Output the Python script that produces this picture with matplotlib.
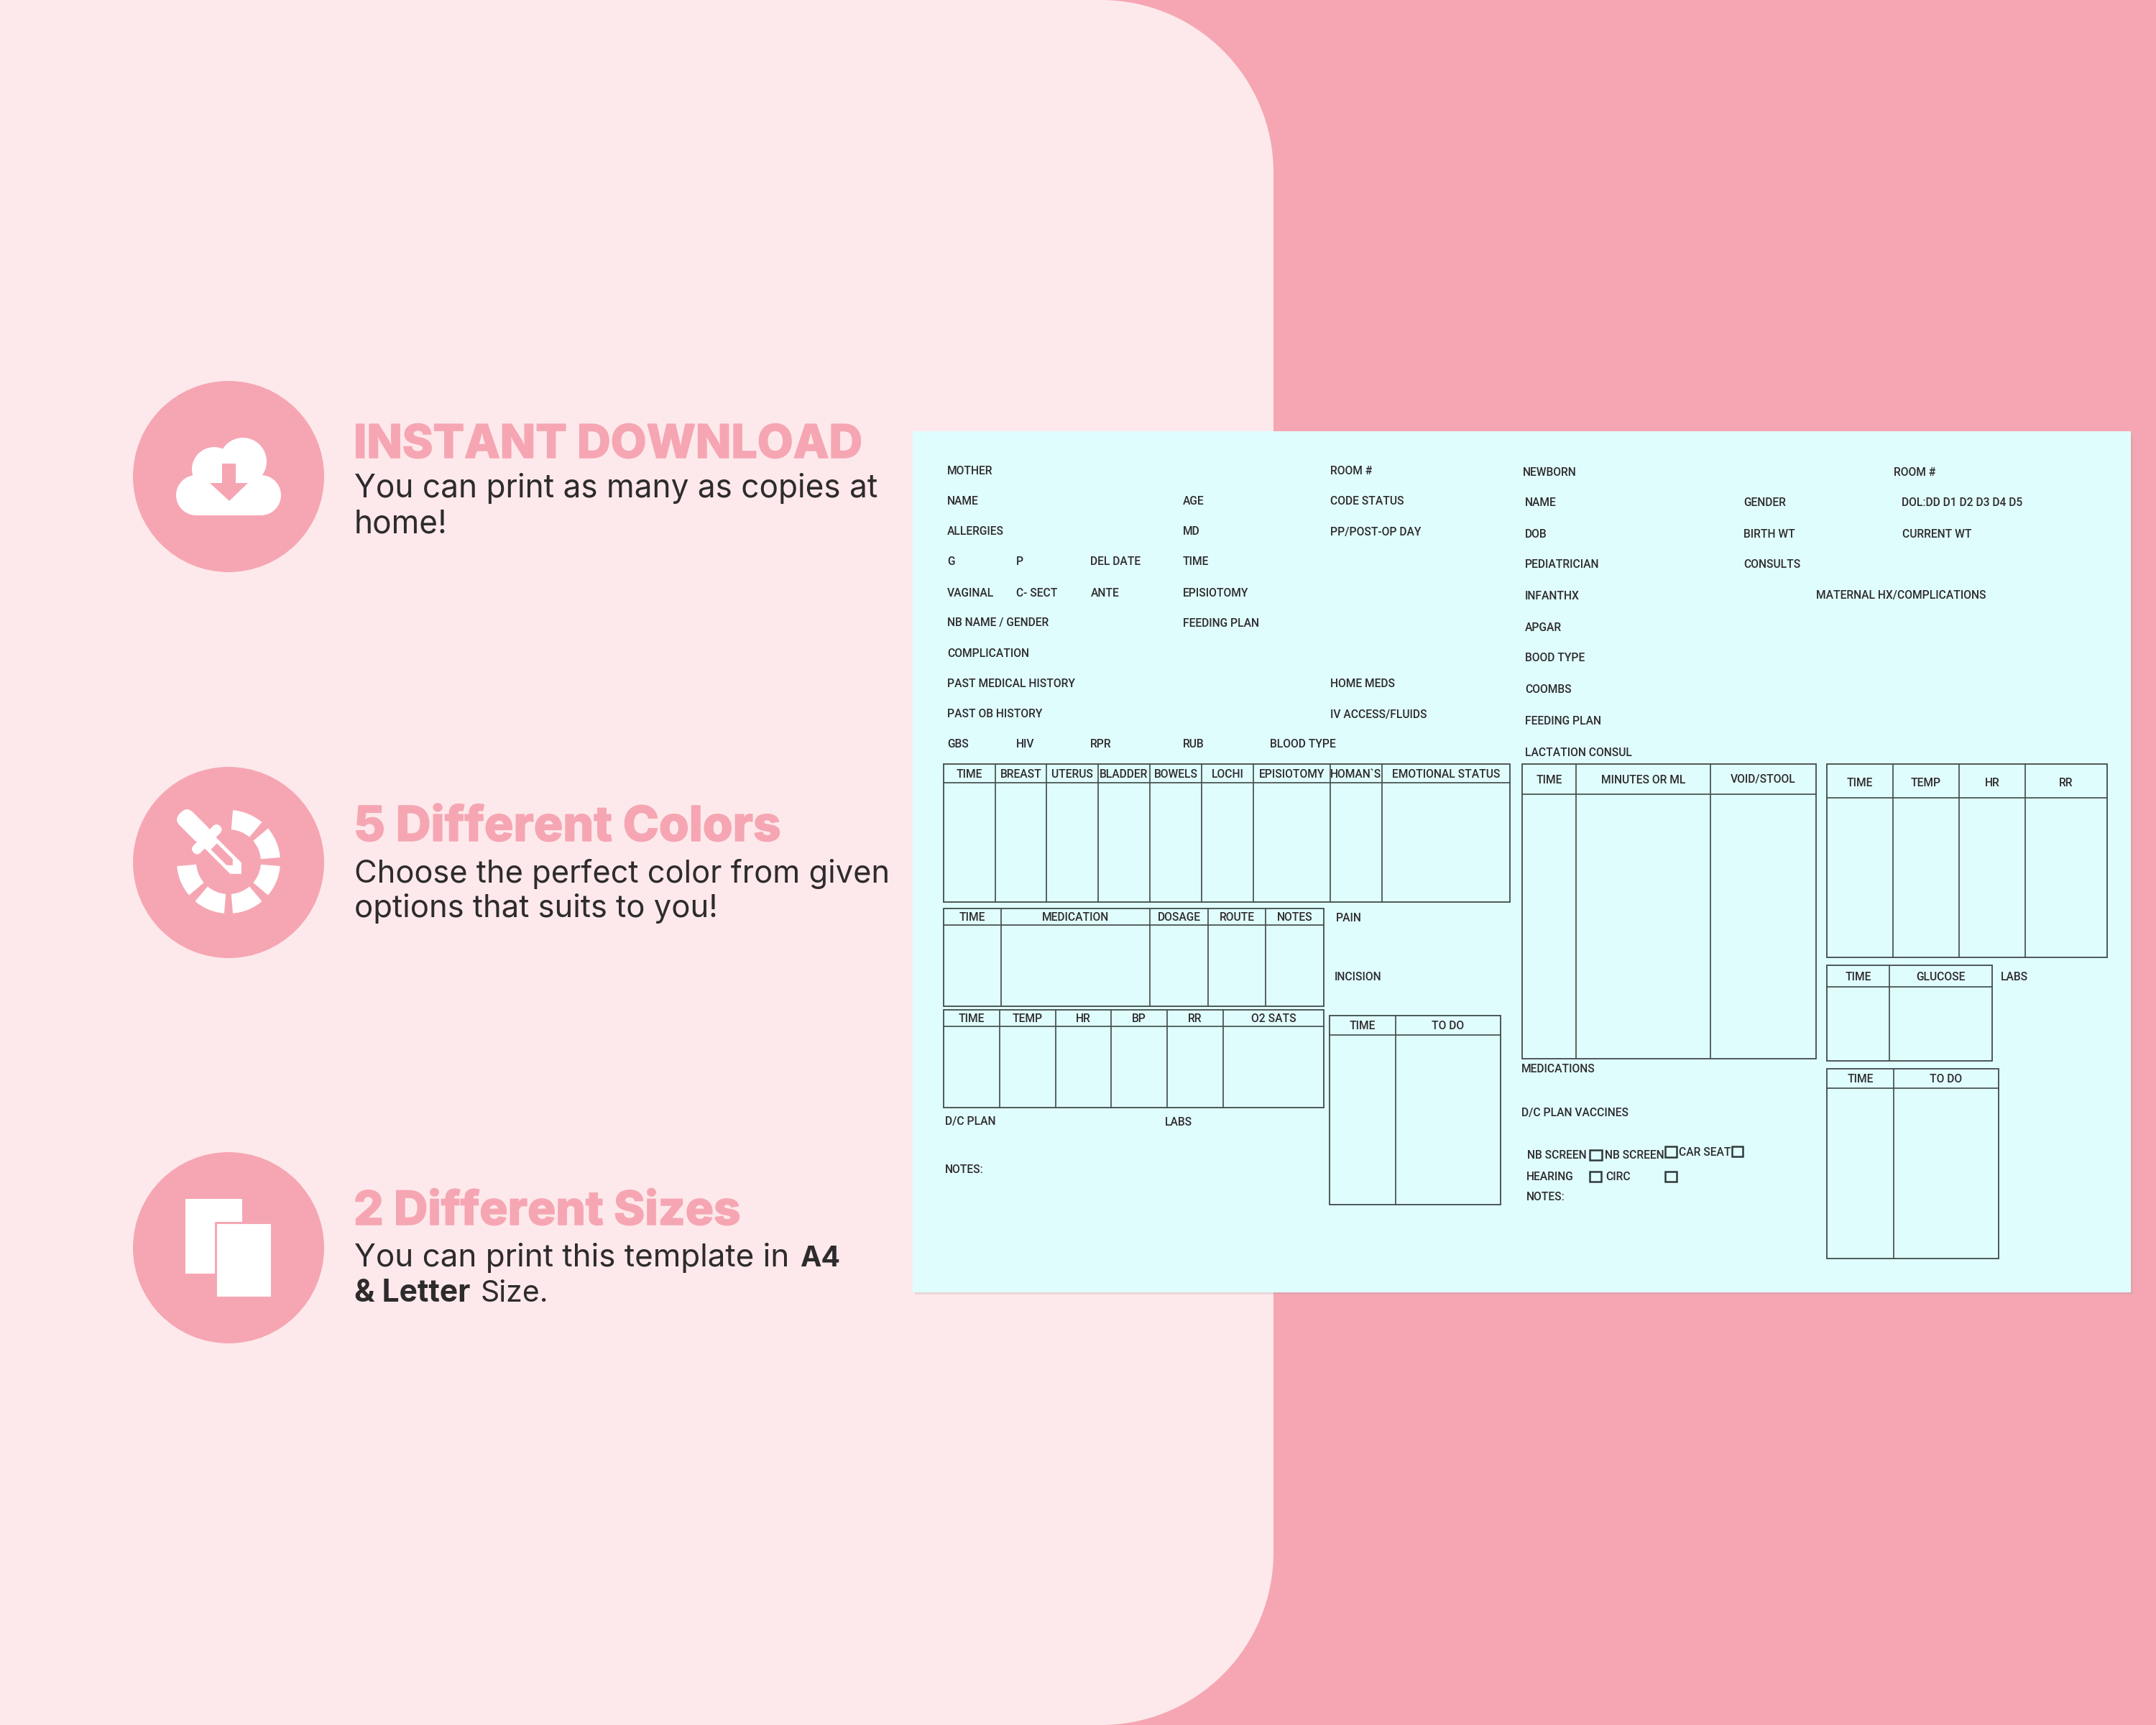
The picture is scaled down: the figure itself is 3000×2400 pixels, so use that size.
import matplotlib
matplotlib.use('Agg')
import matplotlib.pyplot as plt
import matplotlib.patheffects as pe
from matplotlib.patches import Circle, Rectangle, Polygon, Wedge, FancyBboxPatch
from matplotlib.transforms import Affine2D

plt.rcParams['font.family'] = ['Inter', 'DejaVu Sans']

PINK = '#F6A6B3'
PALE = '#FDE9EB'
SHEET = '#E0FDFE'
INK = '#2E2B2D'
LINE = '#46524F'
FORM_FONT = ['Roboto', 'DejaVu Sans']
LABEL = 3.75

# left page text
headings = ['INSTANT DOWNLOAD', '5 Different Colors', '2 Different Sizes']
line_one = ['You can print as many as copies at', 'home!']
line_two = ['Choose the perfect color from given', 'options that suits to you!']
line_three = ['You can print this template in', 'A4', '& Letter', 'Size.']

# form labels, left half
mother_labels = ['MOTHER', 'ROOM #', 'NAME', 'AGE', 'CODE STATUS', 'ALLERGIES', 'MD', 'PP/POST-OP DAY',
                 'G', 'P', 'DEL DATE', 'TIME', 'VAGINAL', 'C- SECT', 'ANTE', 'EPISIOTOMY',
                 'NB NAME / GENDER', 'FEEDING PLAN', 'COMPLICATION', 'PAST MEDICAL HISTORY', 'HOME MEDS',
                 'PAST OB HISTORY', 'IV ACCESS/FLUIDS', 'GBS', 'HIV', 'RPR', 'RUB', 'BLOOD TYPE',
                 'PAIN', 'INCISION', 'D/C PLAN', 'LABS', 'NOTES:']
mother_x = [1318, 1851, 1318, 1646, 1851, 1318, 1646, 1851,
            1318, 1414, 1517, 1646, 1318, 1414, 1518, 1646,
            1318, 1646, 1318, 1318, 1851,
            1318, 1851, 1318, 1414, 1517, 1646, 1767,
            1859, 1857, 1315, 1621, 1315]
mother_y = [655, 655, 697, 697, 697, 739, 739, 739,
            781, 781, 781, 781, 824, 824, 824, 824,
            866, 866, 908, 950, 950,
            993, 993, 1035, 1035, 1035, 1035, 1035,
            1276, 1359, 1560, 1560, 1627]

# form labels, right half
newborn_labels = ['NEWBORN', 'ROOM #', 'NAME', 'GENDER', 'DOL:DD D1 D2 D3 D4 D5', 'DOB', 'BIRTH WT', 'CURRENT WT',
                  'PEDIATRICIAN', 'CONSULTS', 'INFANTHX', 'MATERNAL HX/COMPLICATIONS', 'APGAR', 'BOOD TYPE',
                  'COOMBS', 'FEEDING PLAN', 'LACTATION CONSUL', 'LABS', 'MEDICATIONS', 'D/C PLAN VACCINES',
                  'NB SCREEN', 'NB SCREEN', 'CAR SEAT', 'HEARING', 'CIRC', 'NOTES:']
newborn_x = [2119, 2635, 2122, 2426, 2646, 2122, 2426, 2647,
             2122, 2426, 2122, 2527, 2122, 2122,
             2122, 2122, 2122, 2784, 2117, 2117,
             2125, 2233, 2336, 2124, 2234, 2124]
newborn_y = [656, 656, 698, 698, 698, 742, 742, 742,
             785, 785, 828, 828, 872, 915,
             959, 1002, 1046, 1359, 1486, 1547,
             1607, 1607, 1603, 1637, 1637, 1665]

# table headers
vitals_head = ['TIME', 'BREAST', 'UTERUS', 'BLADDER', 'BOWELS', 'LOCHI', 'EPISIOTOMY', 'HOMAN`S', 'EMOTIONAL STATUS']
meds_head = ['TIME', 'MEDICATION', 'DOSAGE', 'ROUTE', 'NOTES']
temps_head = ['TIME', 'TEMP', 'HR', 'BP', 'RR', 'O2 SATS']
todo_head = ['TIME', 'TO DO']
feeds_head = ['TIME', 'MINUTES OR ML', 'VOID/STOOL']
baby_head = ['TIME', 'TEMP', 'HR', 'RR']
glucose_head = ['TIME', 'GLUCOSE']


def fit(x, y, s, right, **kw):
    # scale the font so the string ends where it does in the picture
    t = ax.text(x, y, s, va='baseline', ha='left', **kw)
    w = t.get_window_extent(fig.canvas.get_renderer()).width
    t.set_fontsize(t.get_fontsize() * (right - x) / w)
    return t


def label(x, y, s, ha='left'):
    ax.text(x, y + 1, s, ha=ha, va='center', fontsize=LABEL, color=INK, family=FORM_FONT, fontweight='medium',
            zorder=8)


def table(edges, top, head_bottom, bottom, head, head_y=None):
    ax.add_patch(Rectangle((edges[0], top), edges[-1] - edges[0], bottom - top, fill=False, ec=LINE, lw=0.45, zorder=7))
    ax.plot([edges[0], edges[-1]], [head_bottom, head_bottom], color=LINE, lw=0.42, zorder=7)
    for e in edges[1:-1]:
        ax.plot([e, e], [top, bottom], color=LINE, lw=0.42, zorder=7)
    if head_y is None:
        head_y = (top + head_bottom) / 2
    for i, name in enumerate(head):
        label((edges[i] + edges[i + 1]) / 2, head_y, name, ha='center')


def checkbox(x0, x1, y0, y1):
    ax.add_patch(Rectangle((x0, y0), x1 - x0, y1 - y0, fill=False, ec='#2F3A3A', lw=0.6, zorder=7))


fig = plt.figure(figsize=(10, 8), dpi=300, facecolor=PINK)
ax = fig.add_axes([0, 0, 1, 1])
ax.set_xlim(0, 3000)
ax.set_ylim(2400, 0)
ax.axis('off')

# rounded pale panel
ax.add_patch(Rectangle((0, 0), 1532, 2400, fc=PALE, ec='none'))
ax.add_patch(Rectangle((1532, 240), 240, 1920, fc=PALE, ec='none'))
ax.add_patch(Circle((1532, 240), 240, fc=PALE, ec='none'))
ax.add_patch(Circle((1532, 2160), 240, fc=PALE, ec='none'))

# icon discs
for cy in [663, 1200, 1736]:
    ax.add_patch(Circle((318, cy), 133, fc=PINK, ec='none', zorder=2))

# cloud
for c, r in [((273, 689), 28), ((363, 689), 28), ((338, 642), 33), ((298, 653), 31)]:
    ax.add_patch(Circle(c, r, fc='white', ec='none', zorder=3))
ax.add_patch(Rectangle((273, 650), 90, 67, fc='white', ec='none', zorder=3))
ax.add_patch(Rectangle((309, 645), 19, 28, fc=PINK, ec='none', zorder=4))
ax.add_patch(Polygon([(292, 672), (345, 672), (319, 697)], fc=PINK, ec='none', zorder=4))

# colour wheel and dropper
for a in range(-90, 180, 45):
    ax.add_patch(Wedge((318, 1199), 72, a + 4.8, a + 45 - 4.8, width=27, fc='white', ec='none', zorder=3))
drop = Affine2D().rotate_deg(45).translate(251, 1131) + ax.transData
ax.add_patch(FancyBboxPatch((0, -13), 52, 26, boxstyle='round,pad=0,rounding_size=12', fc='white', ec='none',
                            transform=drop, zorder=5))
ax.add_patch(FancyBboxPatch((45, -26), 14, 52, boxstyle='round,pad=0,rounding_size=7', fc='white', ec='none',
                            transform=drop, zorder=5))
ax.add_patch(Polygon([(52, -11), (109, -11), (120, 0), (109, 11), (52, 11)], fc='white', ec='none',
                     transform=drop, zorder=4))
ax.add_patch(Polygon([(66, -6), (97, -6), (103, 0), (97, 6), (66, 6)], fc=PINK, ec='none', transform=drop, zorder=5))

# sheets
ax.add_patch(Rectangle((258, 1668), 79, 104, fc='white', ec='none', zorder=3))
ax.add_patch(Rectangle((300, 1701), 78, 104, fc='white', ec=PINK, lw=0.7, zorder=4))

# left text
heading_right = [1200, 1087, 1031]
heading_base = [637, 1170, 1704]
for s, r, b in zip(headings, heading_right, heading_base):
    t = fit(492, b, s, r, color=PINK, fontweight='heavy', fontsize=16)
    t.set_path_effects([pe.withStroke(linewidth=0.35, foreground=PINK)])
first = fit(493, 692, line_one[0], 1222, color=INK, fontsize=11)
ax.text(493, 742, line_one[1], color=INK, fontsize=first.get_fontsize(), va='baseline')
fit(493, 1228, line_two[0], 1238, color=INK, fontsize=11)
fit(493, 1276, line_two[1], 999, color=INK, fontsize=11)
body = fit(493, 1762, line_three[0], 1100, color=INK, fontsize=11)
fit(1113, 1762, line_three[1], 1169, color=INK, fontweight='bold', fontsize=11)
fit(493, 1811, line_three[2], 655, color=INK, fontweight='bold', fontsize=11)
ax.text(669, 1811, line_three[3], color=INK, fontsize=body.get_fontsize() * 0.93, va='baseline')

# form sheet
ax.add_patch(Rectangle((1273, 603), 1695, 1198, fc='#B0A0A0', alpha=0.25, ec='none', zorder=5))
ax.add_patch(Rectangle((1270, 600), 1695, 1198, fc=SHEET, ec='none', zorder=6))

for s, x, y in zip(mother_labels, mother_x, mother_y):
    label(x, y, s)
for s, x, y in zip(newborn_labels, newborn_x, newborn_y):
    label(x, y, s)

table([1313, 1385, 1456, 1528, 1600, 1672, 1744, 1851, 1923, 2101], 1063, 1089, 1255, vitals_head)
table([1313, 1393, 1600, 1681, 1761, 1842], 1264, 1287, 1400, meds_head)
table([1313, 1391, 1469, 1546, 1624, 1702, 1842], 1405, 1428, 1541, temps_head)
table([1850, 1942, 2088], 1413, 1440, 1676, todo_head)
table([2118, 2193, 2380, 2527], 1063, 1105, 1473, feeds_head)
table([2542, 2634, 2726, 2818, 2932], 1063, 1110, 1332, baby_head, head_y=1088)
table([2542, 2629, 2772], 1343, 1373, 1476, glucose_head)
table([2542, 2635, 2781], 1487, 1514, 1751, todo_head)

checkbox(2212, 2229, 1600, 1614)
checkbox(2317, 2333, 1595, 1610)
checkbox(2410, 2425, 1595, 1609)
checkbox(2212, 2228, 1630, 1644)
checkbox(2317, 2333, 1630, 1644)

fig.savefig('out.png', dpi=300, facecolor=PINK)
